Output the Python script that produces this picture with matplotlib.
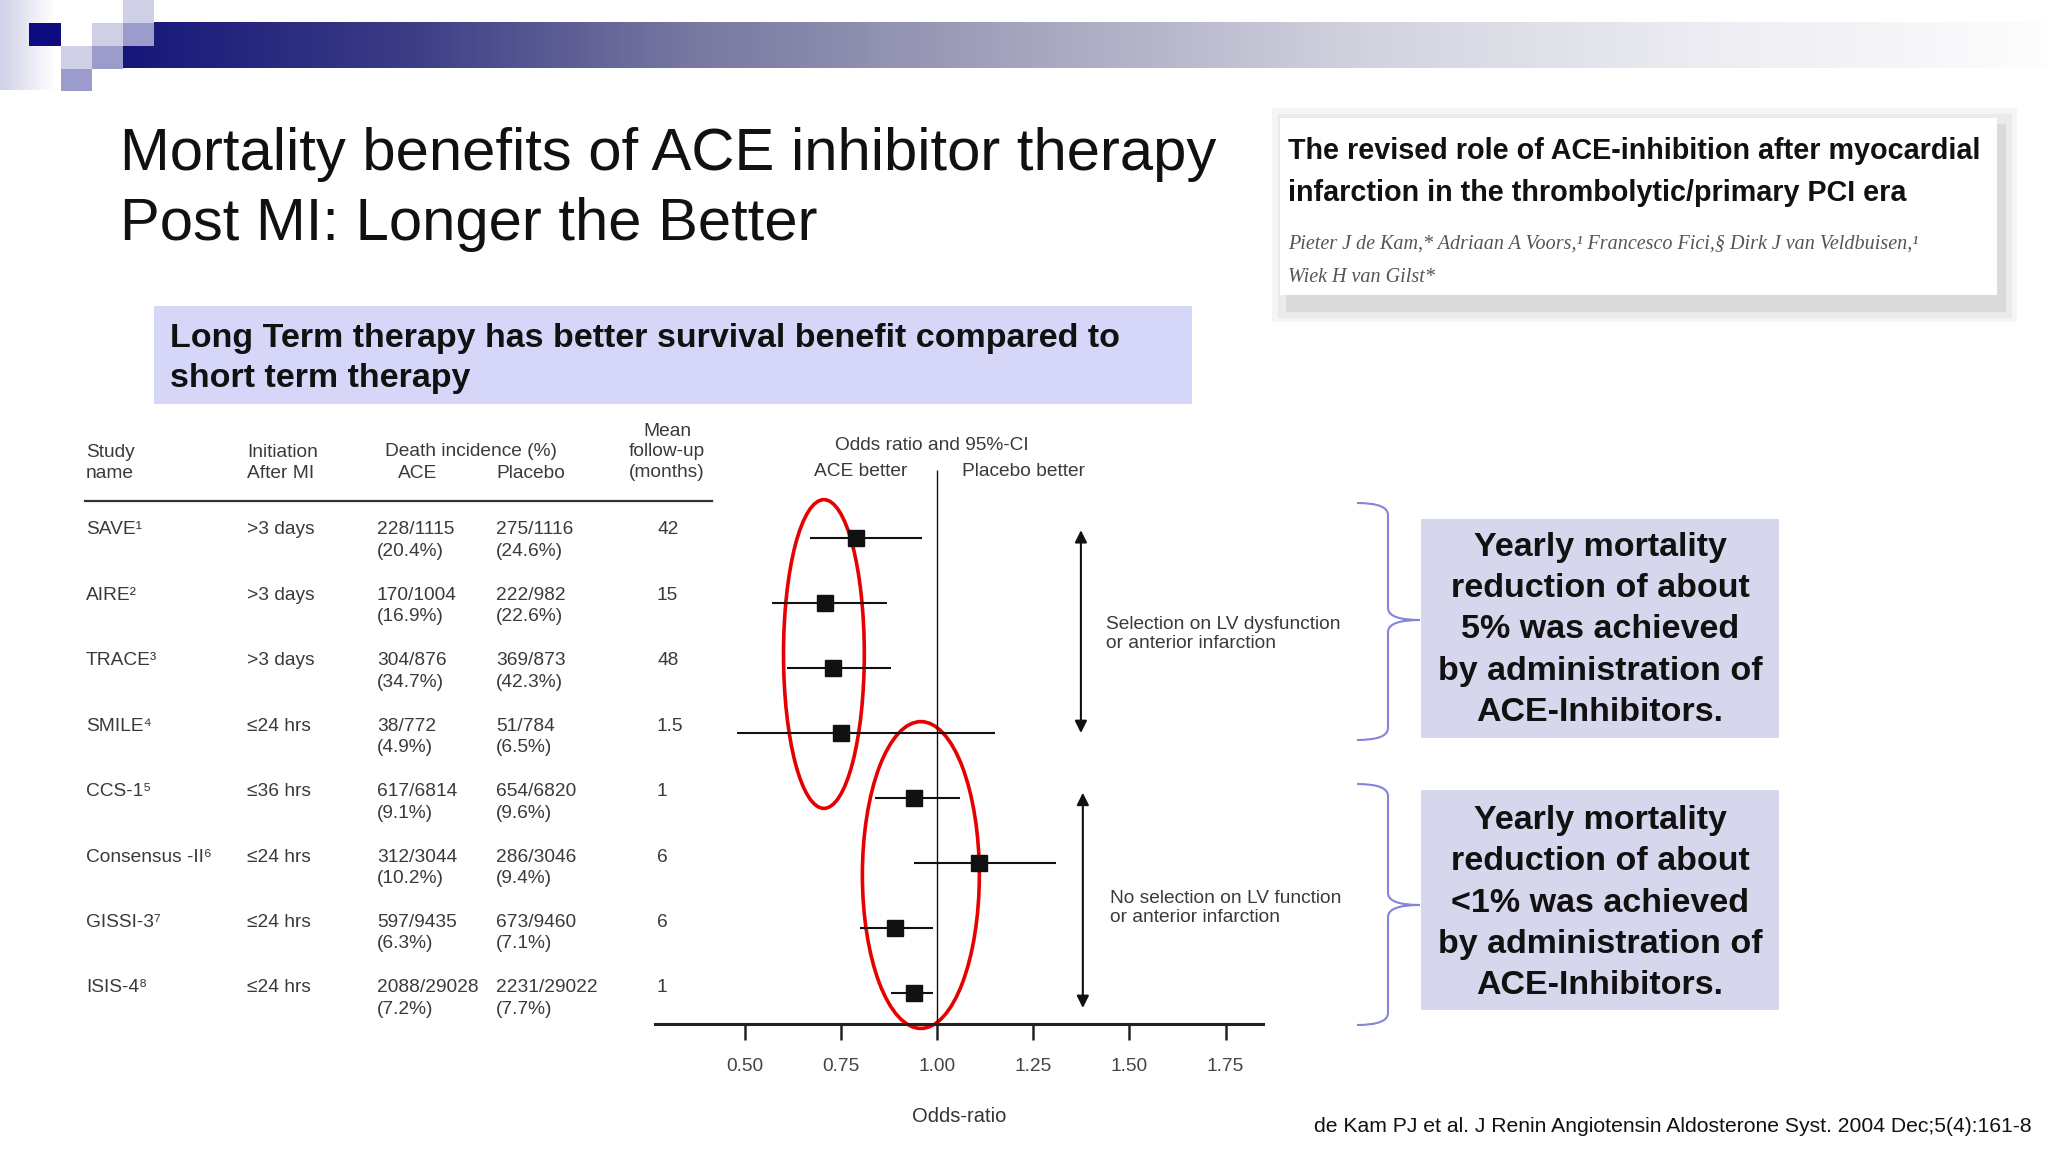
import numpy as np
import matplotlib
matplotlib.use('Agg')
import matplotlib.pyplot as plt
from matplotlib.patches import Rectangle, Ellipse, PathPatch
from matplotlib.path import Path
from matplotlib.colors import LinearSegmentedColormap

plt.rcParams['font.family'] = ['Liberation Sans', 'DejaVu Sans']

# Trial data
studies = ['SAVE', 'AIRE', 'TRACE', 'SMILE', 'CCS-1', 'Consensus -II', 'GISSI-3', 'ISIS-4']
refs = ['¹', '²', '³', '⁴', '⁵', '⁶', '⁷', '⁸']
initiation = ['>3 days', '>3 days', '>3 days', '≤24 hrs', '≤36 hrs', '≤24 hrs', '≤24 hrs', '≤24 hrs']
ace_events = ['228/1115', '170/1004', '304/876', '38/772', '617/6814', '312/3044', '597/9435', '2088/29028']
ace_pct = ['(20.4%)', '(16.9%)', '(34.7%)', '(4.9%)', '(9.1%)', '(10.2%)', '(6.3%)', '(7.2%)']
placebo_events = ['275/1116', '222/982', '369/873', '51/784', '654/6820', '286/3046', '673/9460', '2231/29022']
placebo_pct = ['(24.6%)', '(22.6%)', '(42.3%)', '(6.5%)', '(9.6%)', '(9.4%)', '(7.1%)', '(7.7%)']
followup = ['42', '15', '48', '1.5', '1', '6', '6', '1']
odds_ratio = [0.79, 0.71, 0.73, 0.75, 0.94, 1.11, 0.89, 0.94]
ci_low = [0.67, 0.57, 0.61, 0.48, 0.84, 0.94, 0.80, 0.88]
ci_high = [0.96, 0.87, 0.88, 1.15, 1.06, 1.31, 0.99, 0.99]
or_ticks = [0.50, 0.75, 1.00, 1.25, 1.50, 1.75]

box1_text = 'Yearly mortality\nreduction of about\n5% was achieved\nby administration of\nACE-Inhibitors.'
box2_text = 'Yearly mortality\nreduction of about\n<1% was achieved\nby administration of\nACE-Inhibitors.'

W, H = 2048, 1152
fig = plt.figure(figsize=(20.48, 11.52), dpi=100)

# background axes in pixel coordinates for the slide layout
bg = fig.add_axes([0, 0, 1, 1], zorder=0)
bg.set_xlim(0, W)
bg.set_ylim(H, 0)
bg.axis('off')

# header decoration
bar_cmap = LinearSegmentedColormap.from_list('bar', [
    (0.0, '#16167a'), (0.144, '#3b3b86'), (0.29, '#7676a0'), (0.456, '#a2a2bc'),
    (0.653, '#d4d4e0'), (0.82, '#ececf2'), (1.0, '#fdfdfe')])
bg.imshow(np.linspace(0, 1, 256)[None, :], cmap=bar_cmap, aspect='auto',
          extent=[123, W, 68.5, 23], zorder=1)
side_cmap = LinearSegmentedColormap.from_list('side', ['#d0d0e8', '#ffffff'])
bg.imshow(np.linspace(0, 1, 64)[None, :], cmap=side_cmap, aspect='auto',
          extent=[0, 55, 90, 0], zorder=1)
pale, mid = '#cfcfe6', '#9c9ccc'
for (x, y, w, h, c) in [(29, 23, 32, 23, '#0c0c80'), (91.5, 23, 31.5, 23, pale),
                        (123, 0, 31, 23, pale), (61, 46, 30.5, 22.5, pale),
                        (123, 23, 31, 23, mid), (91.5, 46, 31.5, 22.5, mid),
                        (61, 68.5, 30.5, 22.5, mid)]:
    bg.add_patch(Rectangle((x, y), w, h, fc=c, ec='none', zorder=2))

# title
bg.text(120, 154, 'Mortality benefits of ACE inhibitor therapy', fontsize=43,
        va='center', color='#111')
bg.text(120, 225, 'Post MI: Longer the Better', fontsize=43, va='center', color='#111')

# subtitle box
bg.add_patch(Rectangle((154, 306), 1038, 98, fc='#d6d6f8', ec='none'))
bg.text(170, 338, 'Long Term therapy has better survival benefit compared to',
        fontsize=24.5, fontweight='bold', va='center', color='#111')
bg.text(170, 379, 'short term therapy', fontsize=24.5, fontweight='bold',
        va='center', color='#111')

# paper snippet with soft shadow
bg.add_patch(Rectangle((1272, 108), 745, 214, fc='#f5f5f5', ec='none'))
bg.add_patch(Rectangle((1278, 114), 734, 204, fc='#ebebeb', ec='none'))
bg.add_patch(Rectangle((1286, 124), 720, 188, fc='#dadada', ec='none'))
bg.add_patch(Rectangle((1280, 118), 717, 177, fc='white', ec='none'))
bg.text(1288, 151, 'The revised role of ACE-inhibition after myocardial', fontsize=20.7,
        fontweight='bold', va='center', color='#111')
bg.text(1288, 193, 'infarction in the thrombolytic/primary PCI era', fontsize=20.7,
        fontweight='bold', va='center', color='#111')
serif = ['Liberation Serif', 'DejaVu Serif']
bg.text(1288, 244, 'Pieter J de Kam,* Adriaan A Voors,¹ Francesco Fici,§ Dirk J van Veldbuisen,¹',
        fontsize=14.5, style='italic', family=serif, va='center', color='#555')
bg.text(1288, 278, 'Wiek H van Gilst*', fontsize=14.5, style='italic', family=serif,
        va='center', color='#555')

# table
tc = '#3a3a3a'
fs = 13.8
bg.text(86, 463, 'Study\nname', fontsize=fs, color=tc, va='center', linespacing=1.25)
bg.text(247, 463, 'Initiation\nAfter MI', fontsize=fs, color=tc, va='center', linespacing=1.25)
bg.text(385, 452, 'Death incidence (%)', fontsize=fs, color=tc, va='center')
bg.text(398, 473, 'ACE', fontsize=fs, color=tc, va='center')
bg.text(496, 473, 'Placebo', fontsize=fs, color=tc, va='center')
bg.text(667, 452, 'Mean\nfollow-up\n(months)', fontsize=fs, color=tc, va='center',
        ha='center', multialignment='center', linespacing=1.25)
bg.plot([85, 712], [501, 501], color='#333', lw=1.6)

for i in range(len(studies)):
    y = 530 + 65.4 * i
    bg.text(86, y, studies[i] + refs[i], fontsize=fs, color=tc, va='center')
    bg.text(247, y, initiation[i], fontsize=fs, color=tc, va='center')
    bg.text(377, y, ace_events[i], fontsize=fs, color=tc, va='center')
    bg.text(377, y + 21.5, ace_pct[i], fontsize=fs, color=tc, va='center')
    bg.text(496, y, placebo_events[i], fontsize=fs, color=tc, va='center')
    bg.text(496, y + 21.5, placebo_pct[i], fontsize=fs, color=tc, va='center')
    bg.text(657, y, followup[i], fontsize=fs, color=tc, va='center')

# forest plot headers
bg.text(932, 445, 'Odds ratio and 95%-CI', fontsize=fs, color=tc, ha='center', va='center')
bg.text(861, 472, 'ACE better', fontsize=fs, color=tc, ha='center', va='center')
bg.text(1024, 472, 'Placebo better', fontsize=fs, color=tc, ha='center', va='center')

# forest plot axes
ax = fig.add_axes([655.4 / W, 1 - 1024 / H, (1262.5 - 655.4) / W, (1024 - 434) / H], zorder=1)
ax.patch.set_alpha(0)
rows = np.arange(len(studies))
ax.set_xlim(0.268, 1.846)
ax.set_ylim(7.477, -1.6)
for s in ['top', 'left', 'right']:
    ax.spines[s].set_visible(False)
ax.spines['bottom'].set_linewidth(2.2)
ax.spines['bottom'].set_color('#222')
ax.set_yticks([])
ax.set_xticks(or_ticks)
ax.set_xticklabels(['%.2f' % t for t in or_ticks])
ax.tick_params(axis='x', length=11.5, width=1.8, pad=13, labelsize=fs,
               labelcolor='#444', color='#222')
ax.set_xlabel('Odds-ratio', fontsize=14.5, color='#333', labelpad=23)

ax.vlines(1.0, -1.05, 7.477, color='#111', lw=1.0)
ax.hlines(rows, ci_low, ci_high, color='#111', lw=1.5)
ax.plot(odds_ratio, rows, 's', ms=11, color='#111', mec='#111')

# red ellipses
ax.add_patch(Ellipse((0.706, 1.785), 0.21, 4.75, fill=False, ec='#e60000', lw=2.6, clip_on=False))
ax.add_patch(Ellipse((0.958, 5.185), 0.304, 4.72, fill=False, ec='#e60000', lw=2.6, clip_on=False))

# grouping arrows
for x0, y0, y1 in [(1.374, -0.12, 3.0), (1.379, 3.92, 7.23)]:
    ax.annotate('', xy=(x0, y0), xytext=(x0, y1),
                arrowprops=dict(arrowstyle='<|-|>', color='#111', lw=1.5,
                                mutation_scale=18, shrinkA=0, shrinkB=0))

bg.text(1106, 634, 'Selection on LV dysfunction\nor anterior infarction', fontsize=fs,
        color=tc, va='center', linespacing=1.2)
bg.text(1110, 908, 'No selection on LV function\nor anterior infarction', fontsize=fs,
        color=tc, va='center', linespacing=1.2)


# braces
def brace(y0, y1, ty, xe=1357, xs=1388, xt=1420, r=12):
    verts = [(xe, y0), (xs, y0), (xs, y0 + r), (xs, ty - r), (xs, ty), (xt, ty),
             (xt, ty), (xs, ty), (xs, ty + r), (xs, y1 - r), (xs, y1), (xe, y1)]
    codes = [Path.MOVETO, Path.CURVE3, Path.CURVE3, Path.LINETO, Path.CURVE3, Path.CURVE3,
             Path.MOVETO, Path.CURVE3, Path.CURVE3, Path.LINETO, Path.CURVE3, Path.CURVE3]
    bg.add_patch(PathPatch(Path(verts, codes), fc='none', ec='#8484dc', lw=1.5))


brace(503, 740, 620)
brace(784, 1025, 905)

# right boxes
bg.add_patch(Rectangle((1421, 519), 358, 219, fc='#d6d6ec', ec='none'))
bg.text(1600, 630, box1_text, fontsize=24.5, fontweight='bold', ha='center', va='center',
        multialignment='center', linespacing=1.43, color='#111')
bg.add_patch(Rectangle((1421, 790), 358, 220, fc='#d6d6ec', ec='none'))
bg.text(1600, 903, box2_text, fontsize=24.5, fontweight='bold', ha='center', va='center',
        multialignment='center', linespacing=1.43, color='#111')

# citation
bg.text(2032, 1127, 'de Kam PJ et al. J Renin Angiotensin Aldosterone Syst. 2004 Dec;5(4):161-8',
        fontsize=15.2, ha='right', va='center', color='#111')

fig.savefig('out.png', dpi=100)
